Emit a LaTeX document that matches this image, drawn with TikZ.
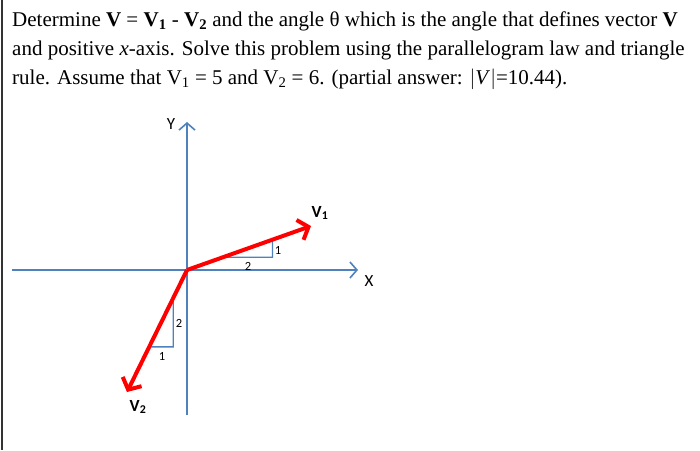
\documentclass[tikz,border=0pt]{standalone}
\usepackage{fontspec}
\setmainfont{Liberation Serif}
\newfontfamily\diagfont{Carlito}
\usetikzlibrary{arrows.meta}
\usetikzlibrary{calc}
\definecolor{axisblue}{RGB}{79,129,189}
\tikzstyle{axis}=[draw=axisblue, line width=1.6pt, -{Straight Barb[length=7pt,width=16pt]}]
\tikzstyle{vec}=[draw=red, line width=4pt, -{Straight Barb[length=9pt,width=21pt]}]
\tikzstyle{tri}=[draw=axisblue, line width=1.3pt]
\tikzstyle{lbl}=[font=\diagfont\fontsize{17}{17}\selectfont, inner sep=0pt]
\tikzstyle{num}=[font=\diagfont\fontsize{12.5}{12.5}\selectfont, inner sep=0pt]
\tikzstyle{textline}=[anchor=base west, inner sep=0pt, font=\fontsize{21}{25}\selectfont]

\begin{document}
\begin{tikzpicture}[x=1pt,y=-1pt]
\useasboundingbox[fill=white] (0,0) rectangle (700,450);
\draw[line width=2pt, black!80] (2,0) -- (2,450);
% problem text
\node[textline] (l1) at (12,26) {Determine \textbf{V} = \textbf{V\textsubscript{1}} - \textbf{V\textsubscript{2}} and the angle θ which is the angle that defines vector \textbf{V}};
\node[textline] (l2) at (12,55) {and positive \textit{x}-axis. Solve this problem using the parallelogram law and triangle};
\node[textline] (l3) at (12,84) {rule. Assume that V\textsubscript{1} = 5 and V\textsubscript{2} = 6. (partial answer: $\left|\mbox{\textit{V}}\right|$=10.44).};
% axes
\coordinate (o) at (187,270);
\coordinate (xs) at (12,270);
\coordinate (xe) at (358,270);
\coordinate (ys) at (187,415);
\coordinate (ye) at (187,122);
\draw[axis] (xs) -- (xe);
\draw[axis] (ys) -- (ye);
\node[lbl] (ylab) at (171,124) {Y};
\node[lbl] (xlab) at (369,281) {X};
% vectors
\coordinate (v1) at (311,226);
\coordinate (v2) at (127,392);
\coordinate (a1) at ($(o)!0.29!(v1)$);
\coordinate (b1) at ($(o)!0.69!(v1)$);
\coordinate (a2) at ($(o)!0.23!(v2)$);
\coordinate (b2) at ($(o)!0.63!(v2)$);
\draw[tri] (a1) -- (b1 |- a1) -- (b1) -- cycle;
\draw[tri] (a2) -- (a2 |- b2) -- (b2) -- cycle;
\node[num] (n2a) at (248,266) {2};
\node[num] (n1a) at (278,250) {1};
\node[num] (n2b) at (179,323) {2};
\node[num] (n1b) at (162,356) {1};
\draw[vec] (o) -- (v1);
\draw[vec] (o) -- (v2);
\node[lbl] (v1lab) at (320,213) {\textbf{V\textsubscript{1}}};
\node[lbl] (v2lab) at (138,407) {\textbf{V\textsubscript{2}}};
\end{tikzpicture}
\end{document}
